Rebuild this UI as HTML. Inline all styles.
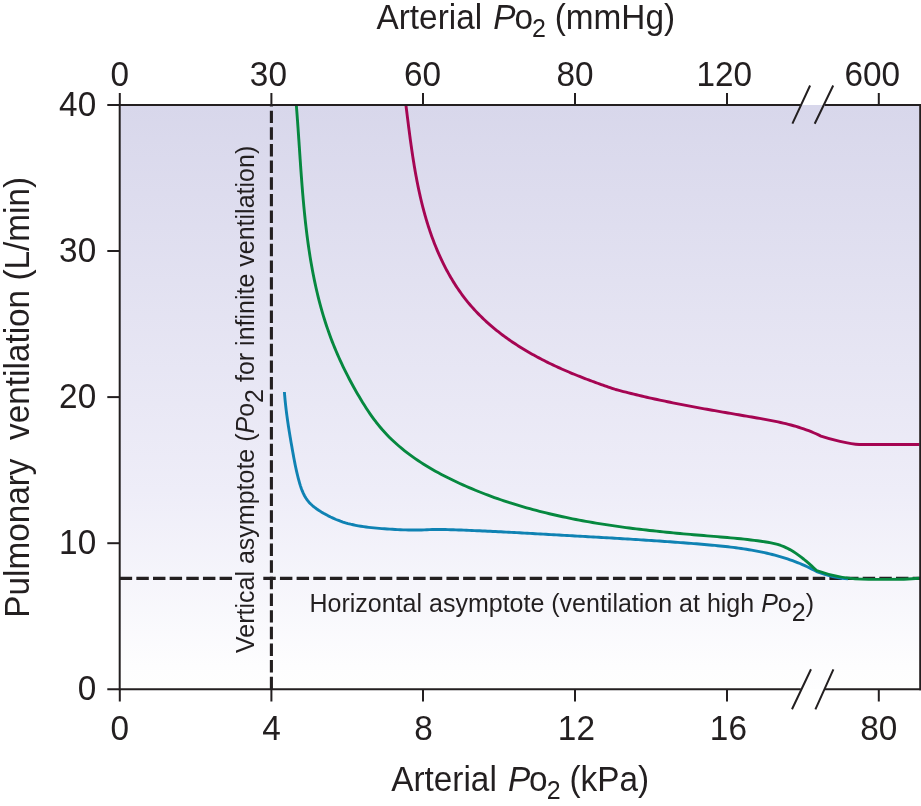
<!DOCTYPE html>
<html lang="en"><head><meta charset="utf-8"><title>Ventilatory response to arterial Po2</title>
<style>
html,body{margin:0;padding:0;background:#fff;}
body{width:921px;height:806px;overflow:hidden;}
svg{display:block;}
text{font-family:"Liberation Sans",Arial,Helvetica,sans-serif;fill:#231f20;white-space:pre;}
.big{font-size:33.35px;}
.ann{font-size:25px;}
.it{font-style:italic;}
</style></head><body>
<svg width="921" height="806" viewBox="0 0 921 806" role="img" aria-label="Pulmonary ventilation versus arterial Po2">
<defs><linearGradient id="bg" x1="0" y1="0" x2="0" y2="1">
<stop offset="0" stop-color="#d8d7eb"/>
<stop offset="0.66" stop-color="#eeedf8"/>
<stop offset="0.96" stop-color="#fdfdfe"/>
<stop offset="1" stop-color="#fefefe"/>
</linearGradient></defs>
<rect x="0" y="0" width="921" height="806" fill="#fff"/>
<rect x="119.7" y="105.0" width="799.9" height="584.2" fill="url(#bg)"/>
<g stroke="#231f20" stroke-width="3.1" fill="none" stroke-dasharray="12.45 4.2">
<path d="M271.4 689.2V105"/>
<path d="M119.7 578.4H232.4"/>
<path d="M263.3 578.4H920"/>
</g>
<g fill="none" stroke-width="2.9" stroke-linecap="butt" stroke-linejoin="round">
<path stroke="#0f82b3" d="M284.40 392.00L284.60 394.62L284.82 397.24L285.06 399.87L285.33 402.50L285.61 405.13L285.91 407.76L286.22 410.39L286.55 413.03L286.90 415.66L287.26 418.30L287.64 420.93L288.02 423.56L288.42 426.20L288.83 428.82L289.25 431.45L289.67 434.07L290.11 436.69L290.55 439.31L290.99 441.92L291.45 444.52L291.90 447.12L292.36 449.72L292.82 452.30L293.29 454.88L293.76 457.46L294.25 460.04L294.75 462.61L295.26 465.18L295.80 467.75L296.36 470.33L296.95 472.91L297.58 475.50L298.23 478.09L298.92 480.69L299.66 483.29L300.45 485.87L301.32 488.43L302.28 490.94L303.34 493.38L304.52 495.74L305.84 498.00L307.30 500.14L308.93 502.15L310.71 504.02L312.63 505.77L314.67 507.42L316.80 508.98L319.00 510.47L321.24 511.90L323.53 513.27L325.86 514.58L328.22 515.84L330.61 517.03L333.03 518.15L335.48 519.22L337.95 520.22L340.44 521.15L342.96 522.01L345.48 522.80L348.02 523.53L350.57 524.19L353.13 524.78L355.70 525.32L358.28 525.81L360.88 526.25L363.48 526.65L366.08 527.01L368.70 527.33L371.32 527.63L373.95 527.89L376.58 528.14L379.22 528.36L381.86 528.58L384.50 528.78L387.15 528.97L389.80 529.15L392.45 529.32L395.10 529.47L397.75 529.61L400.40 529.73L403.06 529.84L405.71 529.92L408.36 529.99L411.02 530.03L413.67 530.05L416.31 530.05L418.96 530.02L421.60 529.97L424.24 529.89L426.88 529.78L429.51 529.66L432.15 529.54L434.78 529.46L437.42 529.43L440.06 529.44L442.70 529.49L445.34 529.55L447.98 529.63L450.63 529.71L453.27 529.79L455.91 529.88L458.56 529.97L461.20 530.07L463.84 530.16L466.49 530.26L469.13 530.37L471.77 530.48L474.42 530.59L477.06 530.70L479.71 530.81L482.35 530.93L484.99 531.05L487.64 531.18L490.28 531.30L492.93 531.43L495.57 531.56L498.22 531.69L500.86 531.82L503.50 531.96L506.15 532.10L508.79 532.24L511.44 532.38L514.08 532.52L516.73 532.66L519.37 532.80L522.01 532.95L524.66 533.10L527.30 533.24L529.95 533.39L532.59 533.54L535.24 533.69L537.88 533.84L540.52 533.99L543.17 534.14L545.81 534.29L548.45 534.44L551.10 534.59L553.74 534.75L556.38 534.90L559.03 535.05L561.67 535.20L564.31 535.35L566.95 535.50L569.60 535.65L572.24 535.80L574.88 535.95L577.52 536.09L580.17 536.24L582.81 536.39L585.45 536.54L588.09 536.69L590.73 536.84L593.37 536.99L596.02 537.14L598.66 537.30L601.30 537.45L603.94 537.60L606.58 537.75L609.22 537.91L611.86 538.06L614.50 538.22L617.14 538.37L619.79 538.53L622.43 538.69L625.07 538.85L627.71 539.01L630.35 539.17L632.99 539.34L635.63 539.50L638.27 539.67L640.91 539.84L643.55 540.01L646.19 540.18L648.83 540.35L651.47 540.52L654.11 540.70L656.75 540.88L659.40 541.06L662.04 541.24L664.68 541.43L667.32 541.61L669.96 541.80L672.60 541.99L675.24 542.18L677.88 542.38L680.52 542.58L683.16 542.78L685.81 542.98L688.45 543.19L691.09 543.40L693.73 543.61L696.37 543.82L699.01 544.04L701.65 544.26L704.30 544.48L706.94 544.71L709.58 544.95L712.22 545.19L714.86 545.43L717.50 545.69L720.13 545.95L722.77 546.22L725.40 546.51L728.04 546.80L730.67 547.11L733.29 547.43L735.92 547.77L738.54 548.12L741.16 548.49L743.77 548.87L746.39 549.27L748.99 549.70L751.60 550.14L754.20 550.60L756.80 551.09L759.39 551.59L761.97 552.12L764.55 552.68L767.13 553.26L769.70 553.87L772.27 554.50L774.83 555.16L777.38 555.85L779.93 556.57L782.47 557.33L785.00 558.11L787.52 558.93L790.04 559.78L792.54 560.66L795.03 561.58L797.51 562.54L799.96 563.53L802.41 564.56L804.83 565.63L807.23 566.74L809.61 567.90L811.96 569.09L814.30 570.32L816.60 571.60C826 575 836 578.6 848 578.9"/>
<path stroke="#06883f" d="M296.30 104.90L296.57 108.25L296.83 111.60L297.08 114.96L297.33 118.32L297.58 121.68L297.82 125.05L298.06 128.42L298.29 131.79L298.52 135.17L298.75 138.55L298.98 141.93L299.21 145.31L299.44 148.70L299.66 152.08L299.89 155.47L300.12 158.86L300.36 162.25L300.59 165.64L300.83 169.03L301.07 172.43L301.32 175.82L301.57 179.21L301.83 182.61L302.09 186.00L302.36 189.39L302.64 192.78L302.93 196.17L303.22 199.56L303.53 202.95L303.84 206.34L304.16 209.72L304.50 213.11L304.85 216.49L305.20 219.87L305.57 223.25L305.96 226.62L306.36 229.99L306.77 233.36L307.20 236.73L307.64 240.09L308.10 243.45L308.57 246.80L309.06 250.16L309.58 253.50L310.10 256.85L310.65 260.18L311.22 263.52L311.81 266.85L312.42 270.17L313.05 273.49L313.70 276.80L314.37 280.11L315.07 283.41L315.79 286.71L316.53 289.99L317.30 293.28L318.10 296.55L318.92 299.82L319.77 303.08L320.64 306.34L321.55 309.59L322.48 312.83L323.44 316.06L324.43 319.28L325.44 322.50L326.49 325.70L327.58 328.90L328.69 332.09L329.83 335.27L331.01 338.45L332.22 341.61L333.47 344.76L334.74 347.90L336.05 351.04L337.39 354.16L338.76 357.27L340.16 360.37L341.59 363.46L343.05 366.54L344.54 369.60L346.06 372.65L347.60 375.70L349.17 378.72L350.77 381.74L352.39 384.74L354.03 387.72L355.71 390.70L357.40 393.66L359.12 396.60L360.86 399.53L362.63 402.43L364.44 405.32L366.27 408.18L368.14 411.01L370.05 413.81L371.99 416.57L373.98 419.30L376.01 421.99L378.10 424.63L380.23 427.23L382.41 429.79L384.65 432.29L386.94 434.74L389.28 437.14L391.67 439.49L394.11 441.79L396.60 444.04L399.13 446.25L401.71 448.42L404.33 450.53L406.99 452.61L409.68 454.64L412.42 456.63L415.19 458.58L417.99 460.49L420.82 462.36L423.69 464.19L426.58 465.98L429.50 467.73L432.44 469.45L435.41 471.14L438.40 472.79L441.41 474.41L444.44 475.99L447.48 477.54L450.54 479.07L453.61 480.56L456.70 482.02L459.79 483.46L462.90 484.86L466.01 486.25L469.13 487.60L472.26 488.93L475.40 490.23L478.54 491.51L481.69 492.76L484.85 493.98L488.02 495.19L491.20 496.36L494.38 497.52L497.57 498.65L500.76 499.75L503.96 500.84L507.17 501.90L510.39 502.93L513.61 503.95L516.84 504.94L520.08 505.91L523.32 506.87L526.56 507.80L529.81 508.71L533.07 509.59L536.34 510.46L539.61 511.31L542.88 512.14L546.16 512.96L549.44 513.75L552.73 514.52L556.03 515.28L559.32 516.02L562.63 516.74L565.93 517.44L569.25 518.13L572.56 518.80L575.88 519.46L579.21 520.10L582.53 520.72L585.86 521.33L589.20 521.92L592.53 522.50L595.88 523.07L599.22 523.62L602.57 524.16L605.91 524.68L609.27 525.19L612.62 525.69L615.98 526.18L619.34 526.65L622.70 527.12L626.06 527.57L629.43 528.01L632.80 528.44L636.16 528.86L639.53 529.27L642.91 529.67L646.28 530.06L649.65 530.44L653.03 530.81L656.40 531.17L659.78 531.53L663.16 531.88L666.53 532.22L669.91 532.55L673.29 532.88L676.67 533.20L680.05 533.51L683.42 533.82L686.80 534.12L690.18 534.42L693.56 534.71L696.93 534.99L700.31 535.28L703.68 535.56L707.05 535.83L710.43 536.11L713.80 536.38L717.17 536.66L720.54 536.94L723.91 537.23L727.28 537.53L730.65 537.83L734.02 538.15L737.39 538.47L740.76 538.81L744.13 539.17L747.50 539.54L750.87 539.94L754.24 540.35L757.61 540.78L760.98 541.24L764.35 541.73L767.71 542.27L771.04 542.89L774.34 543.61L777.59 544.47L780.78 545.48L783.89 546.68L786.94 548.06L789.91 549.61L792.82 551.31L795.66 553.13L798.45 555.08L801.17 557.12L803.85 559.24L806.48 561.43L809.07 563.67L811.61 565.94L814.12 568.22L816.60 570.50C826 574 845 579.4 868.7 579.4L886.1 579.4Q905 579.4 919.4 578.2"/>
<path stroke="#a50552" d="M405.90 105.00L406.14 106.89L406.37 108.77L406.61 110.66L406.85 112.55L407.08 114.45L407.32 116.34L407.56 118.24L407.80 120.13L408.04 122.03L408.28 123.93L408.52 125.83L408.76 127.74L409.01 129.64L409.26 131.55L409.51 133.45L409.76 135.36L410.01 137.27L410.27 139.18L410.53 141.09L410.80 143.00L411.06 144.91L411.33 146.82L411.61 148.73L411.89 150.64L412.17 152.55L412.46 154.46L412.75 156.37L413.04 158.28L413.34 160.19L413.65 162.10L413.96 164.01L414.27 165.92L414.59 167.83L414.92 169.74L415.25 171.64L415.59 173.55L415.94 175.45L416.29 177.36L416.65 179.26L417.01 181.16L417.39 183.06L417.77 184.96L418.15 186.86L418.55 188.75L418.95 190.65L419.36 192.54L419.78 194.43L420.21 196.32L420.64 198.21L421.09 200.09L421.54 201.97L422.00 203.85L422.47 205.73L422.95 207.61L423.44 209.48L423.94 211.35L424.45 213.22L424.97 215.08L425.51 216.95L426.05 218.80L426.60 220.66L427.16 222.51L427.74 224.36L428.32 226.21L428.92 228.05L429.53 229.89L430.15 231.73L430.78 233.56L431.43 235.39L432.08 237.21L432.75 239.03L433.44 240.84L434.13 242.65L434.84 244.46L435.56 246.26L436.29 248.05L437.03 249.84L437.79 251.62L438.56 253.39L439.34 255.16L440.14 256.92L440.95 258.68L441.78 260.43L442.61 262.17L443.46 263.90L444.33 265.62L445.21 267.34L446.10 269.05L447.00 270.74L447.92 272.43L448.86 274.11L449.80 275.79L450.77 277.45L451.74 279.10L452.73 280.74L453.74 282.37L454.76 283.99L455.79 285.60L456.84 287.20L457.91 288.79L458.99 290.37L460.08 291.93L461.19 293.49L462.32 295.03L463.46 296.56L464.61 298.07L465.78 299.57L466.97 301.06L468.17 302.54L469.39 304.00L470.63 305.45L471.88 306.89L473.14 308.31L474.42 309.72L475.72 311.12L477.02 312.50L478.35 313.87L479.69 315.23L481.04 316.57L482.40 317.90L483.78 319.22L485.18 320.52L486.58 321.82L488.00 323.10L489.43 324.36L490.87 325.62L492.33 326.86L493.80 328.09L495.28 329.31L496.77 330.52L498.27 331.71L499.79 332.89L501.31 334.06L502.85 335.22L504.39 336.37L505.95 337.50L507.52 338.63L509.09 339.74L510.68 340.84L512.27 341.93L513.88 343.01L515.49 344.07L517.12 345.13L518.75 346.17L520.39 347.21L522.03 348.23L523.69 349.24L525.35 350.25L527.02 351.24L528.70 352.22L530.39 353.19L532.08 354.15L533.78 355.10L535.49 356.03L537.20 356.96L538.91 357.88L540.64 358.79L542.37 359.69L544.10 360.58L545.84 361.46L547.59 362.33L549.33 363.19L551.09 364.04L552.85 364.88L554.61 365.71L556.37 366.53L558.14 367.35L559.92 368.15L561.69 368.95L563.47 369.73L565.25 370.51L567.04 371.28L568.83 372.04L570.62 372.79L572.41 373.54L574.20 374.28L576.00 375.01L577.80 375.73L579.60 376.44L581.40 377.15L583.20 377.85L585.00 378.55L586.80 379.24L588.61 379.92L590.41 380.59L592.21 381.26L594.02 381.93L595.82 382.58L597.62 383.24L599.43 383.88L601.23 384.53L603.03 385.16L604.83 385.80L606.63 386.42L608.43 387.05L610.22 387.67L612.02 388.28L613.81 388.89L615.60 389.50L615.60 389.50L618.18 390.19L620.77 390.88L623.36 391.55L625.95 392.22L628.54 392.87L631.13 393.52L633.73 394.16L636.32 394.78L638.92 395.41L641.52 396.02L644.12 396.62L646.72 397.22L649.33 397.81L651.93 398.39L654.54 398.97L657.15 399.54L659.76 400.10L662.37 400.66L664.98 401.20L667.60 401.75L670.21 402.28L672.83 402.81L675.44 403.34L678.06 403.86L680.68 404.38L683.30 404.89L685.93 405.39L688.55 405.89L691.17 406.39L693.80 406.88L696.42 407.37L699.05 407.85L701.68 408.33L704.31 408.81L706.93 409.28L709.56 409.76L712.20 410.22L714.83 410.69L717.46 411.15L720.09 411.62L722.73 412.07L725.36 412.53L727.99 412.99L730.63 413.44L733.27 413.90L735.90 414.35L738.54 414.80L741.18 415.25L743.81 415.70L746.45 416.15L749.09 416.60L751.73 417.05L754.37 417.50L757.01 417.96L759.64 418.42L762.28 418.88L764.91 419.36L767.54 419.84L770.17 420.34L772.79 420.85L775.41 421.38L778.02 421.93L780.62 422.50L783.22 423.09L785.81 423.71L788.39 424.35L790.96 425.02L793.53 425.73L796.08 426.46L798.62 427.24L801.15 428.05L803.67 428.89L806.18 429.78L808.67 430.72L811.15 431.69L813.61 432.72L816.06 433.79L818.49 434.92L820.90 436.10C830 439.2 850 444.2 859.2 444.5L919.4 444.5"/>
</g>
<g stroke="#231f20" stroke-width="2" fill="none">
<path d="M107.3 104.9H800.8M824.7 104.9H921"/>
<path d="M107.3 689.3H800.8M824.7 689.3H921"/>
<path d="M119.7 104V690.2"/>
<path d="M920.2 104V690.2"/>
<path d="M119.8 93V105M119.8 689.2V701.5"/>
<path d="M271.4 93V105M271.4 689.2V701.5"/>
<path d="M423.0 93V105M423.0 689.2V701.5"/>
<path d="M575.0 93V105M575.0 689.2V701.5"/>
<path d="M727.0 93V105M727.0 689.2V701.5"/>
<path d="M878.8 93V105M878.8 689.2V701.5"/>
<path d="M107.3 251.0H119.7"/>
<path d="M107.3 397.1H119.7"/>
<path d="M107.3 543.2H119.7"/>
<path d="M810.1 85.5L792.4 123.7M833.2 85.5L814.7 123.7"/>
<path d="M811 669.3L792 709.3M833.4 669.3L815.4 709.3"/>
</g>
<text class="big" transform="translate(119.8 85.8) scale(1 1.035)" text-anchor="middle">0</text>
<text class="big" transform="translate(268.4 85.8) scale(1 1.035)" text-anchor="middle">30</text>
<text class="big" transform="translate(422.6 85.8) scale(1 1.035)" text-anchor="middle">60</text>
<text class="big" transform="translate(575.0 85.8) scale(1 1.035)" text-anchor="middle">80</text>
<text class="big" transform="translate(724.2 85.8) scale(1 1.035)" text-anchor="middle">120</text>
<text class="big" transform="translate(872.3 85.8) scale(1 1.035)" text-anchor="middle">600</text>
<text class="big" transform="translate(119.7 739.8) scale(1 1.035)" text-anchor="middle">0</text>
<text class="big" transform="translate(271.4 739.8) scale(1 1.035)" text-anchor="middle">4</text>
<text class="big" transform="translate(423.5 739.8) scale(1 1.035)" text-anchor="middle">8</text>
<text class="big" transform="translate(576.4 739.8) scale(1 1.035)" text-anchor="middle">12</text>
<text class="big" transform="translate(728.4 739.8) scale(1 1.035)" text-anchor="middle">16</text>
<text class="big" transform="translate(878.7 739.8) scale(1 1.035)" text-anchor="middle">80</text>
<text class="big" transform="translate(96.2 115.6) scale(1 1.035)" text-anchor="end">40</text>
<text class="big" transform="translate(96.2 262.4) scale(1 1.035)" text-anchor="end">30</text>
<text class="big" transform="translate(96.2 407.7) scale(1 1.035)" text-anchor="end">20</text>
<text class="big" transform="translate(96.2 554.4) scale(1 1.035)" text-anchor="end">10</text>
<text class="big" transform="translate(96.2 700.2) scale(1 1.035)" text-anchor="end">0</text>
<text class="big" transform="translate(376.5 28.8) scale(1 1.035)" xml:space="preserve">Arterial <tspan class="it" dx="2">P</tspan><tspan dx="-1.2">o</tspan><tspan font-size="25" dy="7.8" dx="-1">2</tspan><tspan dy="-7.8" dx="-0.4"> (mmHg)</tspan></text>
<text class="big" transform="translate(391.2 790.6) scale(1 1.035)" xml:space="preserve">Arterial <tspan class="it" dx="2">P</tspan><tspan dx="-1.2">o</tspan><tspan font-size="25" dy="7.8" dx="-1">2</tspan><tspan dy="-7.8" dx="-0.4"> (kPa)</tspan></text>
<text class="big" transform="translate(29.2 617.8) rotate(-90) scale(1 1.035)" xml:space="preserve">Pulmonary  ventilation (L/min)</text>
<text class="ann" x="309.5" y="611.8" xml:space="preserve">Horizontal asymptote (ventilation at high <tspan class="it">P</tspan>o<tspan dy="9">2</tspan><tspan dy="-9">)</tspan></text>
<text class="ann" transform="translate(254.1 653) rotate(-90)" xml:space="preserve">Vertical asymptote (<tspan class="it">P</tspan>o<tspan dy="9">2</tspan><tspan dy="-9"> for infinite ventilation)</tspan></text>
</svg>
</body></html>
